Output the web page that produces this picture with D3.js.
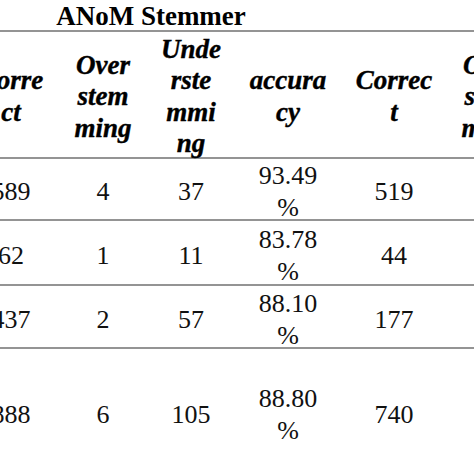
<!DOCTYPE html>
<html><head><meta charset="utf-8">
<script src="https://cdn.jsdelivr.net/npm/d3@7"></script>
<style>body{margin:0;background:#fff}svg{display:block}</style>
</head><body>
<script>
const title = "ANoM Stemmer";
const columns = ["correct", "over", "under", "accuracy", "correct2", "over2"];
const headers = [["Corre", "ct"], ["Over", "stem", "ming"], ["Unde", "rste", "mmi", "ng"], ["accura", "cy"], ["Correc", "t"], ["Over", "stem", "ming"]];
const correct = [589, 62, 437, 888];
const over = [4, 1, 2, 6];
const under = [37, 11, 57, 105];
const accuracy = ["93.49", "83.78", "88.10", "88.80"];
const correct2 = [519, 44, 177, 740];

const W = 474, H = 474;
const svg = d3.select("body").append("svg").attr("width", W).attr("height", H);
const x = d3.scaleOrdinal().domain(columns).range([11, 103, 191, 288, 394, 490]);
const rowY = d3.scaleOrdinal().domain([0, 1, 2, 3]).range([191, 255, 319, 414]);
const lines = [31, 158, 220, 285, 348];
const lh = 31.5;

svg.append("text").attr("x", 151).attr("y", 25).attr("text-anchor", "middle")
  .attr("font-family", "Liberation Serif").attr("font-weight", "bold").attr("font-size", 27)
  .text(title);

svg.selectAll("line.rule").data(lines).join("line").attr("class", "rule")
  .attr("x1", 0).attr("x2", W).attr("y1", d => d).attr("y2", d => d)
  .attr("stroke", "#707070").attr("stroke-width", 1.6);

// headers, vertically centred at y≈96
const hg = svg.selectAll("g.h").data(columns).join("g").attr("class", "h");
hg.each(function (c, i) {
  const parts = headers[i];
  const y0 = 96 - (parts.length - 1) * lh / 2;
  d3.select(this).selectAll("text").data(parts).join("text")
    .attr("x", x(c)).attr("y", (d, j) => y0 + j * lh + 9).attr("text-anchor", "middle")
    .attr("font-family", "Liberation Serif").attr("font-style", "italic").attr("font-weight", "bold")
    .attr("font-size", 27).attr("stroke", "#000").attr("stroke-width", 0.4).text(d => d);
});

const cols = { correct, over, under, correct2 };
const body = svg.append("g").attr("font-family", "Liberation Serif").attr("font-size", 26).attr("fill", "#111");
Object.entries(cols).forEach(([k, vals]) => {
  body.selectAll(null).data(vals).join("text")
    .attr("x", x(k)).attr("y", (d, i) => rowY(i) + 9).attr("text-anchor", "middle").text(d => d);
});
accuracy.forEach((a, i) => {
  [a, "%"].forEach((t, j) => {
    body.append("text").attr("x", x("accuracy")).attr("y", rowY(i) - lh / 2 + j * lh + 9)
      .attr("text-anchor", "middle").text(t);
  });
});
</script>
</body></html>
